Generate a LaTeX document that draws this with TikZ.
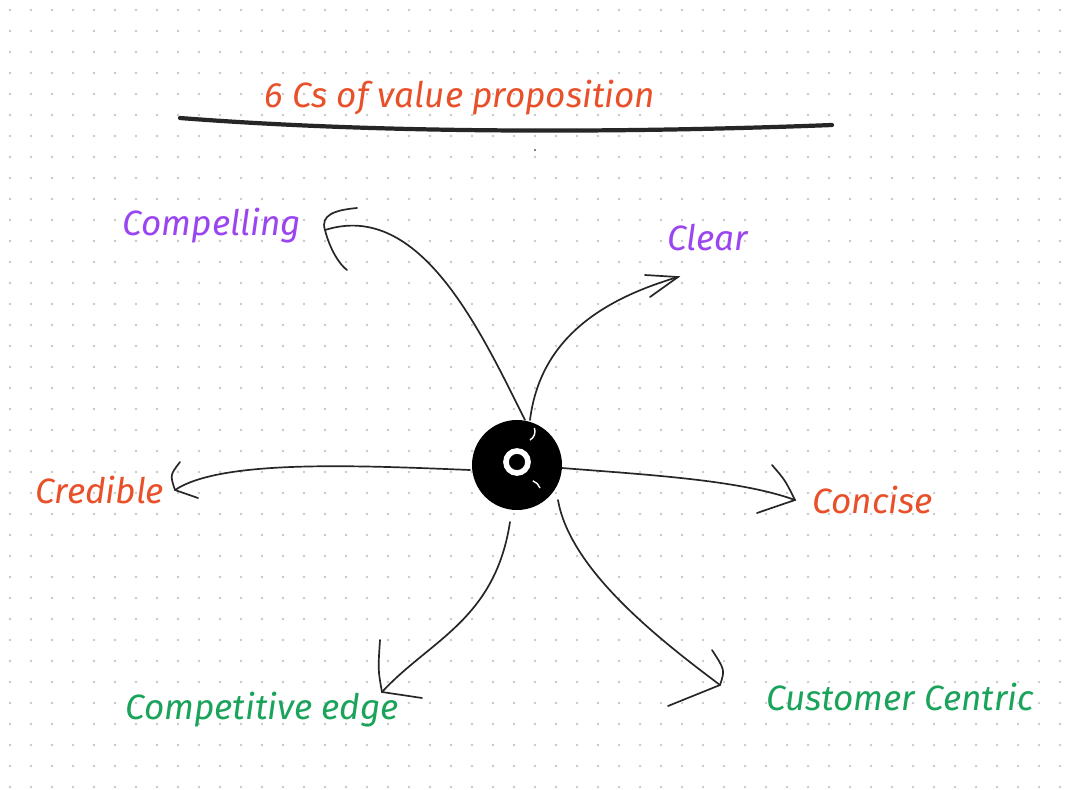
\documentclass[tikz,border=0pt]{standalone}
\usepackage{fontspec}
\setmainfont{Fira Sans}
\definecolor{cpur}{HTML}{9B45F0}
\definecolor{corg}{HTML}{E8502A}
\definecolor{cgrn}{HTML}{1AA35A}
\begin{document}
\begin{tikzpicture}[x=0.025cm,y=-0.025cm,
  lbl/.style={font=\itshape\fontsize{25}{27}\selectfont},
  pur/.style={lbl,text=cpur},
  org/.style={lbl,text=corg},
  grn/.style={lbl,text=cgrn},
  stroke/.style={line width=1.2pt,black!85,line cap=round}]
\useasboundingbox (0,0) rectangle (1080,790);
\fill[white] (0,0) rectangle (1080,790);
\foreach \i in {0,...,51}{\foreach \j in {0,...,37}{\fill[black!22] (10+\i*21,10+\j*21) circle (0.9pt);}}
\node[org] (title) at (460,98) {6 Cs of value proposition};
\coordinate (l1) at (180,118); \coordinate (l2) at (832,125);
\draw[line width=3pt,black!85,line cap=round] (l1) .. controls (400,135) and (650,132) .. (l2);
\node[circle,fill=black,minimum size=90*0.025cm] (c) at (517,465) {};
\draw[white,line width=4pt] (517,462) circle (11*0.025cm);
\fill[black] (517,462) circle (5*0.025cm);
\draw[white,line width=1pt] (530,440) arc (-60:20:10*0.025cm);
\draw[white,line width=1pt] (540,488) arc (20:70:12*0.025cm);
\node[pur] (comp) at (212,226) {Compelling};
\node[pur] (clear) at (708,238) {Clear};
\node[org] (cred) at (100,490) {Credible};
\node[org] (conc) at (873,500) {Concise};
\node[grn] (edge) at (262,710) {Competitive edge};
\node[grn] (cust) at (900,697) {Customer Centric};
\coordinate (a1) at (325,230);
\draw[stroke] (525,420) .. controls (480,330) and (420,200) .. (a1);
\draw[stroke] (357,208) .. controls (335,210) and (320,215) .. (a1) .. controls (330,250) and (340,265) .. (347,270);
\coordinate (a2) at (678,277);
\draw[stroke] (530,420) .. controls (540,340) and (600,300) .. (a2);
\draw[stroke] (645,275) -- (a2) -- (650,297);
\coordinate (a3) at (175,490);
\draw[stroke] (470,470) .. controls (350,465) and (220,460) .. (a3);
\draw[stroke] (180,462) .. controls (170,475) .. (a3) -- (198,498);
\coordinate (a4) at (795,500);
\draw[stroke] (562,468) .. controls (650,475) and (740,480) .. (a4);
\draw[stroke] (772,465) .. controls (785,480) .. (a4) -- (757,513);
\coordinate (a5) at (382,692);
\draw[stroke] (510,522) .. controls (495,620) and (430,640) .. (a5);
\draw[stroke] (380,640) .. controls (378,670) .. (a5) -- (422,698);
\coordinate (a6) at (720,685);
\draw[stroke] (558,500) .. controls (570,570) and (660,640) .. (a6);
\draw[stroke] (712,650) .. controls (725,670) .. (a6) -- (668,706);
\fill[black] (535,150) circle (0.6pt);
\end{tikzpicture}
\end{document}
